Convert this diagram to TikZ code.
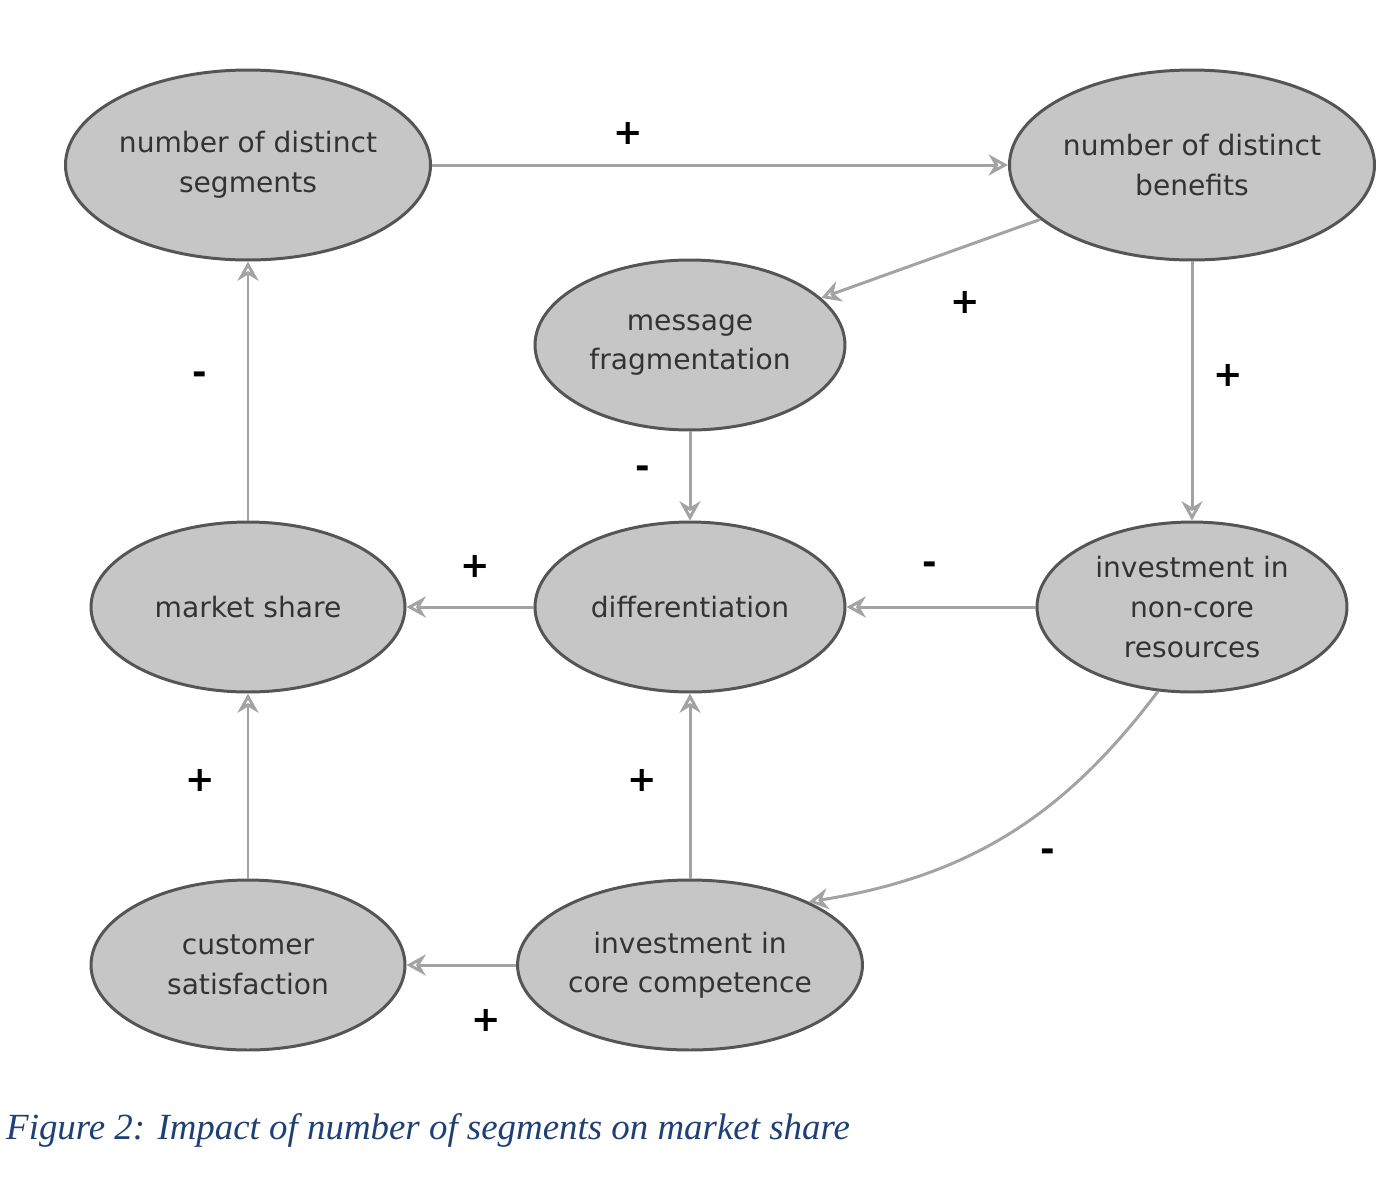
\documentclass[tikz,border=0pt]{standalone}
\usepackage{fontspec}
\setmainfont{DejaVu Sans}
\newfontfamily\capfont{Liberation Serif}
\usetikzlibrary{shapes.geometric,arrows.meta}
\definecolor{nodefill}{HTML}{C6C6C6}
\definecolor{nodeline}{HTML}{555555}
\definecolor{edgecol}{HTML}{A3A3A3}
\definecolor{capblue}{HTML}{1F3F77}
\begin{document}
\begin{tikzpicture}[x=0.02cm,y=-0.02cm,
  var/.style={ellipse, draw=nodeline, fill=nodefill, line width=1.7pt, inner sep=0pt,
    align=center, text=black!80, font=\fontsize{16}{22.5}\selectfont},
  link/.style={draw=edgecol, line width=1.7pt, -{Stealth[length=11pt,width=12pt,open]}},
  sign/.style={font=\fontsize{20}{20}\selectfont\bfseries}]
  \useasboundingbox (0,0) rectangle (1400,1198);

  % variables
  \node (seg) [var, minimum width=360\pgflinewidth*0+7.2cm, minimum height=3.8cm] at (248,165) {number of distinct\\segments};
  \node (ben) [var, minimum width=6.72cm, minimum height=3.8cm] at (1192,165) {number of distinct\\benefits};
  \node (msg) [var, minimum width=6.2cm, minimum height=3.4cm] at (690,345) {message\\fragmentation};
  \node (diff) [var, minimum width=6.2cm, minimum height=3.4cm] at (690,607) {differentiation};
  \node (inv) [var, minimum width=6.2cm, minimum height=3.4cm] at (1192,607) {investment in\\non-core\\resources};
  \node (ms) [var, minimum width=6.28cm, minimum height=3.4cm] at (248,607) {market share};
  \node (cs) [var, minimum width=6.28cm, minimum height=3.4cm] at (248,965) {customer\\satisfaction};
  \node (core) [var, minimum width=6.2cm, minimum height=3.4cm] at (690,965) {investment in\\core competence};

  % links
  \draw[link] (seg) -- (ben);
  \draw[link] (ben) -- (msg);
  \draw[link] (ben) -- (inv);
  \draw[link] (msg) -- (diff);
  \draw[link] (inv) -- (diff);
  \draw[link] (diff) -- (ms);
  \draw[link] (ms) -- (seg);
  \draw[link] (cs) -- (ms);
  \draw[link] (core) -- (diff);
  \draw[link] (core) -- (cs);
  \draw[link] (inv.248) to[bend left=22] (core.28);

  % polarities
  \node (p1) [sign] at (628,133) {+};
  \node (p2) [sign] at (965,302) {+};
  \node (p3) [sign] at (1228,375) {+};
  \node (p4) [sign] at (200,378) {-};
  \node (p5) [sign] at (643,472) {-};
  \node (p6) [sign] at (475,566) {+};
  \node (p7) [sign] at (930,568) {-};
  \node (p8) [sign] at (200,780) {+};
  \node (p9) [sign] at (642,780) {+};
  \node (p10) [sign] at (1048,855) {-};
  \node (p11) [sign] at (486,1020) {+};

  % caption
  \node (cap) [anchor=west, text=capblue, font=\capfont\itshape\fontsize{21}{21}\selectfont] at (0,1130)
    {Figure 2: Impact of number of segments on market share};
\end{tikzpicture}
\end{document}
